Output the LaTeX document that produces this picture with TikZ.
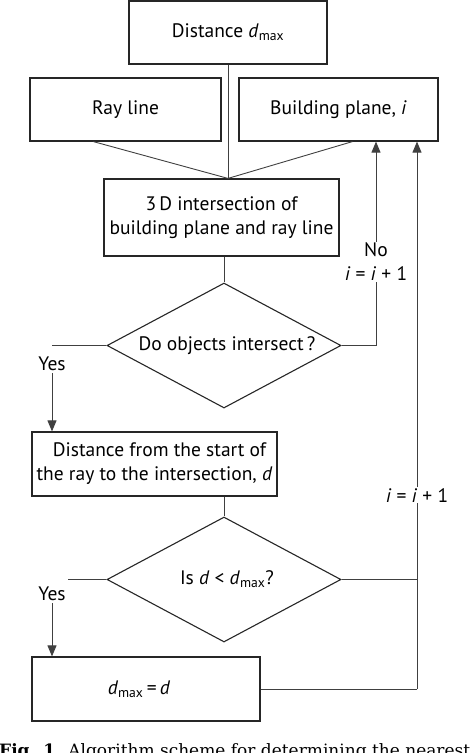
\documentclass[tikz,border=0pt]{standalone}
\usepackage{fontspec}
\setmainfont{PT Sans}
\newfontfamily\capfont{DejaVu Serif}
\usetikzlibrary{shapes.geometric,arrows.meta,calc}
\newcommand\dmx{\textit{d}\textsubscript{max}}
\newcommand\iinc{\textit{i} = \textit{i} + 1}
\begin{document}
\begin{tikzpicture}[x=1pt,y=-1pt,
  txt/.style={font=\fontsize{19.5}{24}\selectfont},
  box/.style={txt, draw=black!85, line width=1.2pt, rectangle, inner sep=0pt, align=center},
  dia/.style={txt, draw=black!85, line width=1.1pt, diamond, aspect=1.872, inner sep=0pt, align=center, minimum width=234pt, minimum height=125pt},
  conn/.style={draw=black!75, line width=0.9pt},
  arr/.style={conn, -{Triangle[length=11pt,width=9pt]}},
  lbl/.style={txt, inner sep=1pt, fill=white, align=center}]
\useasboundingbox (0,0) rectangle (474,753);
\clip (0,0) rectangle (474,753);

\node[box, minimum width=198pt, minimum height=63pt] (dist) at (228,32.5) {Distance \dmx};
\node[box, minimum width=191pt, minimum height=63pt] (ray) at (125.5,109.5) {Ray line};
\node[box, minimum width=199pt, minimum height=63pt] (bp) at (338.5,109.5) {Building plane, \textit{i}};
\node[box, minimum width=235pt, minimum height=77pt] (inter) at (221.5,217.5) {3\,D intersection of\\building plane and ray line};
\node[dia] (d1) at (224,345.5) {\hspace*{6pt}Do objects intersect\,?};
\node[box, minimum width=245pt, minimum height=64pt] (box2) at (154.5,464) {\hspace*{10pt}Distance from the start of\\the ray to the intersection, \textit{d}};
\node[dia] (d2) at (224,579.5) {\hspace*{6pt}Is \textit{d} < \dmx?};
\node[box, minimum width=228pt, minimum height=64pt] (box3) at (146,689) {\hspace*{-14pt}\dmx\,=\,\textit{d}};

% top connections
\coordinate (meet) at (dist.south |- inter.north);
\draw[conn] (dist.south) -- (meet);
\draw[conn] ([xshift=64pt]ray.south west) -- (meet);
\draw[conn] ([xshift=114pt]bp.south west) -- (meet);
\draw[conn] (d1.north |- inter.south) -- (d1.north);
\draw[conn] (d2.north |- box2.south) -- (d2.north);

% No branch
\coordinate (c1) at (376,345.5);
\draw[conn] (d1.east) -- (c1);
\draw[arr] (c1) -- node[lbl, pos=0.41] (nolbl) {No\\\iinc} (c1 |- bp.south);

% Yes branch 1
\coordinate (y1) at (52,345.5);
\draw[conn] (d1.west) -- (y1);
\node[txt, inner sep=2pt] (yes1) at (52,364) {Yes};
\draw[arr] (yes1.south) -- (yes1.south |- box2.north);

% Yes branch 2
\coordinate (y2) at (68,579.5);
\draw[conn] (d2.west) -- (y2);
\node[txt, inner sep=2pt] (yes2) at (52,594) {Yes};
\draw[arr] (yes2.south) -- (yes2.south |- box3.north);

% return loop
\coordinate (c3) at (417,689);
\draw[conn] (box3.east) -- (c3);
\draw[arr] (c3) -- node[lbl, pos=0.354] (inclbl) {\iinc} (c3 |- bp.south);
\draw[conn] (d2.east) -- (d2.east -| c3);

% cut caption
\node[anchor=base west, inner sep=0pt, font=\capfont\fontsize{17}{20}\selectfont] (cap) at (-1,756) {\textbf{Fig. 1.} Algorithm scheme for determining the nearest};
\end{tikzpicture}
\end{document}
